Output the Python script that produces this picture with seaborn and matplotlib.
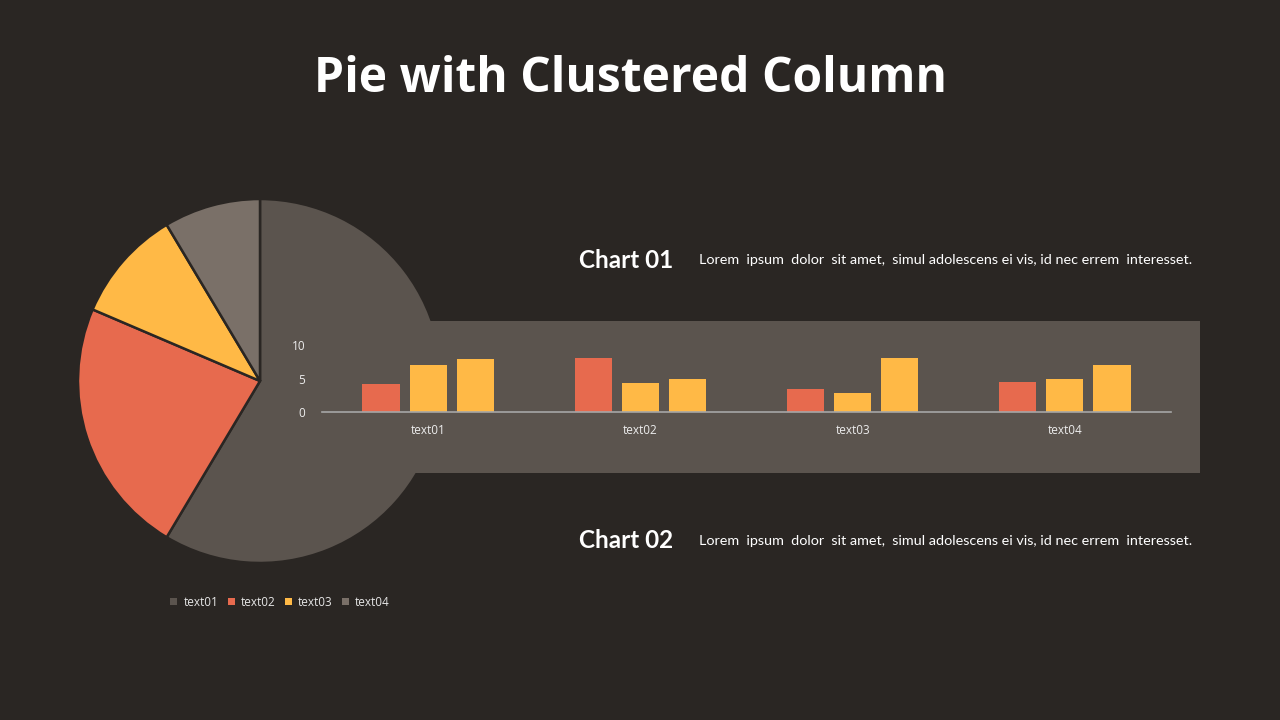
import matplotlib
matplotlib.use("Agg")
import matplotlib.pyplot as plt
from matplotlib.patches import Rectangle, Patch
import seaborn as sns
import pandas as pd

# ---- data ----
pie_labels = ["text01", "text02", "text03", "text04"]
pie_values = [8.2, 3.2, 1.4, 1.2]

bar_categories = ["text01", "text02", "text03", "text04"]
series1 = [4.2, 8.0, 3.4, 4.5]
series2 = [7.0, 4.3, 2.8, 4.9]
series3 = [7.9, 4.9, 8.0, 7.0]
series_names = ["Series 1", "Series 2", "Series 3"]
y_ticks = [0, 5, 10]

title = "Pie with Clustered Column"
chart_titles = ["Chart 01", "Chart 02"]
body_text = "Lorem  ipsum  dolor  sit amet,  simul adolescens ei vis, id nec errem  interesset."

# ---- style ----
BG = "#2A2623"
PANEL = "#5B544E"
RED = "#E76A4E"
YEL = "#FFB946"
GREY = "#7A7068"
pie_colors = [PANEL, RED, YEL, GREY]
bar_colors = [RED, YEL, YEL]

sns.set_theme(style="white")
plt.rcParams["font.family"] = ["Open Sans", "DejaVu Sans"]

W, H = 1280, 720
fig = plt.figure(figsize=(12.8, 7.2), dpi=100, facecolor=BG)

def fx(px):
    return px / W

def fy(py):
    return 1 - py / H

# pie
cx, cy, r = 260, 381, 182
axp = fig.add_axes([fx(cx - r), fy(cy + r), 2 * r / W, 2 * r / H], zorder=1)
axp.set_facecolor("none")
wedges, _ = axp.pie(pie_values, colors=pie_colors, startangle=90, counterclock=False,
                    radius=1, wedgeprops=dict(edgecolor=BG, linewidth=1.8))
axp.set_xlim(-1, 1)
axp.set_ylim(-1, 1)
axp.set_aspect("equal")
axp.axis("off")

# panel behind bar chart (drawn over the pie's arc so they merge)
fig.patches.append(Rectangle((fx(380), fy(473)), fx(1200) - fx(380), (473 - 321) / H,
                             transform=fig.transFigure, facecolor=PANEL, edgecolor="none",
                             zorder=1.5))

# bar chart
axb = fig.add_axes([fx(322), fy(412), fx(1171) - fx(322), (412 - 345) / H], zorder=2)
axb.set_facecolor("none")
df = pd.DataFrame({
    "category": bar_categories * 3,
    "series": sum([[s] * len(bar_categories) for s in series_names], []),
    "value": series1 + series2 + series3,
})
sns.barplot(data=df, x="category", y="value", hue="series", palette=bar_colors,
            width=0.666, gap=0.21, ax=axb, legend=False, saturation=1, errorbar=None,
            linewidth=0, edgecolor="none")
axb.set_xlim(-0.5, 3.5)
axb.set_ylim(0, 10)
axb.set_yticks(y_ticks)
axb.set_xlabel("")
axb.set_ylabel("")
for s in ["top", "right", "left"]:
    axb.spines[s].set_visible(False)
axb.spines["bottom"].set_color("#A6A6A6")
axb.spines["bottom"].set_linewidth(1.2)
axb.tick_params(axis="both", length=0, colors="#EDEDED", labelsize=8.5)
axb.tick_params(axis="y", pad=12)
axb.tick_params(axis="x", pad=9)
for lab in axb.get_xticklabels() + axb.get_yticklabels():
    lab.set_color("#EDEDED")

# legend
handles = [Patch(facecolor=c, edgecolor="none") for c in pie_colors]
fig.legend(handles, pie_labels, loc="center", bbox_to_anchor=(fx(280), fy(602)), ncol=4,
           frameon=False, fontsize=8.5, labelcolor="#E6E6E6", handlelength=0.6, handleheight=0.6,
           handletextpad=0.5, columnspacing=0.8)

# title
fig.text(fx(630), fy(80), title, ha="center", va="center", color="white",
         fontsize=34.6, fontweight="bold")

# chart text blocks
for t, y in zip(chart_titles, [260, 541]):
    fig.text(fx(579), fy(y), t, ha="left", va="center", color="white",
             fontsize=17.5, fontweight="bold", family=["Lato", "DejaVu Sans"])
    fig.text(fx(699), fy(y), body_text, ha="left", va="center", color="white",
             fontsize=10.4, family=["Lato", "DejaVu Sans"])

fig.savefig("out.png", dpi=100, facecolor=BG)
